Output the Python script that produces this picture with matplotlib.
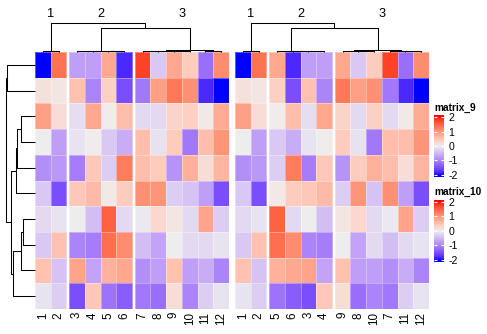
import numpy as np
import matplotlib
matplotlib.use('Agg')
import matplotlib.pyplot as plt
from matplotlib.colors import ListedColormap, Normalize

plt.rcParams['font.family'] = ['Liberation Sans', 'DejaVu Sans']
plt.rcParams['axes.unicode_minus'] = False

# ---- data (rows top->bottom, columns 1..12) ----
mat = np.array([
    [-2.3, 1.35, -0.75, -0.75, 0.8, -1.8, 1.75, -0.35, 0.8, 0.4, -1.2, 1.1],
    [0.15, 0.1, 0.5, -1.0, 0.35, -1.5, -1.1, 0.9, 1.3, 1.05, -1.8, -2.2],
    [0.9, 0.2, -0.15, 0.8, 0.03, 0.55, -0.2, -0.2, 0.3, 0.35, 0.05, 0.75],
    [0.0, -0.75, -0.1, 0.02, -0.35, -0.6, 0.55, -0.12, 0.4, -1.1, 0.55, 1.0],
    [-0.9, -0.8, -1.05, 0.45, -0.3, 1.25, 0.55, 0.4, -0.85, 0.7, 0.2, 0.65],
    [-0.35, -1.5, 0.45, 0.6, 0.05, 0.4, 1.05, 1.0, -0.3, -0.4, -0.75, -1.5],
    [-0.2, -0.1, 0.0, -0.45, 1.5, -0.2, -0.05, 0.25, 0.1, -0.2, 0.85, -0.3],
    [-0.35, 0.5, -1.0, -1.05, 1.4, 1.1, -0.45, -0.7, 0.0, -0.2, -0.2, -0.1],
    [0.5, -0.4, 0.85, -0.7, 0.7, 0.8, -0.9, -0.75, 0.5, -0.75, -0.6, -1.0],
    [-0.1, -0.3, -1.5, 0.45, -1.15, -1.35, -1.1, -1.2, 0.2, -1.0, -0.3, -0.1],
])

col_order_9 = [1, 2, 3, 4, 5, 6, 7, 8, 9, 10, 11, 12]
col_order_10 = [1, 2, 5, 6, 3, 4, 9, 8, 10, 7, 11, 12]
slice_sizes = [2, 4, 6]
slice_titles = ['1', '2', '3']
legend_titles = ['matrix_9', 'matrix_10']
legend_ticks = [2, 1, 0, -1, -2]
legend_labels = ['2', '1', '0', '-1', '-2']

# dendrograms as (left, right, height); leaves = display positions
row_tree = ((0, 1, 0.945),
            ((((2, 3, 0.47), 4, 0.62), 5, 0.65),
             (((6, 7, 0.42), 8, 0.49), 9, 0.74), 0.82), 1.0)
col_tree_9 = ((0, 1, 0.03),
              (((2, 3, 0.02), (4, 5, 0.025), 0.05),
               ((((6, 7, 0.02), (8, 9, 0.025), 0.04), (10, 11, 0.03), 0.055)), 0.84), 1.0)
col_tree_10 = ((0, 1, 0.03),
               ((2, (3, (4, 5, 0.02), 0.03), 0.05),
                ((6, (7, 8, 0.02), 0.03), (9, (10, 11, 0.025), 0.035), 0.055), 0.84), 1.0)

# ---- colour mapping: blue -> #EEEEEE -> red, interpolated in LAB ----
M = np.array([[0.4124564, 0.3575761, 0.1804375],
              [0.2126729, 0.7151522, 0.0721750],
              [0.0193339, 0.1191920, 0.9503041]])
WHITE = np.array([0.95047, 1.0, 1.08883])


def srgb_to_lab(rgb):
    rgb = np.asarray(rgb, float)
    lin = np.where(rgb <= 0.04045, rgb / 12.92, ((rgb + 0.055) / 1.055) ** 2.4)
    t = (lin @ M.T) / WHITE
    d = 6 / 29
    f = np.where(t > d ** 3, np.cbrt(t), t / (3 * d * d) + 4 / 29)
    return np.stack([116 * f[..., 1] - 16, 500 * (f[..., 0] - f[..., 1]),
                     200 * (f[..., 1] - f[..., 2])], -1)


def lab_to_srgb(lab):
    fy = (lab[..., 0] + 16) / 116
    f = np.stack([fy + lab[..., 1] / 500, fy, fy - lab[..., 2] / 200], -1)
    d = 6 / 29
    t = np.where(f > d, f ** 3, 3 * d * d * (f - 4 / 29))
    lin = np.clip((t * WHITE) @ np.linalg.inv(M).T, 0, 1)
    return np.clip(np.where(lin <= 0.0031308, 12.92 * lin,
                            1.055 * lin ** (1 / 2.4) - 0.055), 0, 1)


anchors = np.array([-2, 0, 2])
anchor_lab = srgb_to_lab([[0, 0, 1], [0xEE / 255] * 3, [1, 0, 0]])
vals = np.linspace(-2, 2, 256)
lab = np.stack([np.interp(vals, anchors, anchor_lab[:, k]) for k in range(3)], -1)
cmap = ListedColormap(lab_to_srgb(lab))
norm = Normalize(-2, 2)

# ---- layout ----
W, H = 487, 334
fig = plt.figure(figsize=(W / 100, H / 100), dpi=100)


def add_ax(x0, y0, x1, y1):
    return fig.add_axes([x0 / W, 1 - y1 / H, (x1 - x0) / W, (y1 - y0) / H])


def draw_tree(ax, node, leaf_pos, orient):
    if isinstance(node, int):
        return leaf_pos[node], 0.0
    left, right, h = node
    pl, hl = draw_tree(ax, left, leaf_pos, orient)
    pr, hr = draw_tree(ax, right, leaf_pos, orient)
    xs, ys = [pl, pl, pr, pr], [hl, h, h, hr]
    if orient == 'left':
        xs, ys = ys, xs
    ax.plot(xs, ys, color='black', lw=0.75, solid_capstyle='butt', clip_on=False)
    return (pl + pr) / 2, h


gap = 0.17
starts = np.concatenate([[0], np.cumsum(slice_sizes)[:-1]]) + gap * np.arange(len(slice_sizes))
slice_of = np.repeat(np.arange(len(slice_sizes)), slice_sizes)
col_pos = np.arange(mat.shape[1]) + gap * slice_of + 0.5
xmax = mat.shape[1] + gap * (len(slice_sizes) - 1)
nrow = mat.shape[0]

for x0, order, tree in [(35, col_order_9, col_tree_9), (235, col_order_10, col_tree_10)]:
    ax = add_ax(x0, 52, x0 + 194, 309)
    idx = np.array(order) - 1
    k = 0
    for st, n in zip(starts, slice_sizes):
        sub = mat[:, idx[k:k + n]]
        ax.pcolormesh(st + np.arange(n + 1), np.arange(nrow + 1), sub, cmap=cmap, norm=norm,
                      edgecolors=(1, 1, 1, 0.35), linewidth=0.4)
        k += n
    ax.set_xlim(0, xmax)
    ax.set_ylim(nrow, 0)
    ax.set_xticks(col_pos)
    ax.set_xticklabels([str(c) for c in order], rotation=90, va='top', ha='center')
    ax.tick_params(axis='x', length=0, pad=2.2, labelsize=8.4)
    ax.set_yticks([])
    for sp in ax.spines.values():
        sp.set_visible(False)
    ax.set_facecolor('none')

    axd = add_ax(x0, 22, x0 + 194, 52)
    draw_tree(axd, tree, col_pos, 'top')
    axd.set_xlim(0, xmax)
    axd.set_ylim(0, 1.03)
    axd.axis('off')
    for st, n, t in zip(starts, slice_sizes, slice_titles):
        axd.text(st + n / 2, 1.16, t, transform=axd.get_xaxis_transform(),
                 ha='center', va='baseline', fontsize=9.2)

# row dendrogram
axr = add_ax(5, 52, 35, 309)
draw_tree(axr, row_tree, np.arange(nrow) + 0.5, 'left')
axr.set_ylim(nrow, 0)
axr.set_xlim(1.02, 0)
axr.axis('off')

# legends
grad = np.linspace(-2.12, 2.12, 200)[:, None]
for i, title in enumerate(legend_titles):
    yc = 146 + 84.7 * i
    cax = add_ax(434.3, yc - 31, 444.3, yc + 31)
    cax.imshow(grad, aspect='auto', cmap=cmap, norm=norm, origin='lower',
               extent=[0, 1, -2.15, 2.15])
    cax.set_ylim(-2.15, 2.15)
    cax.set_xlim(0, 1)
    cax.set_xticks([])
    cax.set_yticks(legend_ticks)
    cax.set_yticklabels(legend_labels)
    cax.tick_params(axis='y', direction='in', length=2, width=0.8, color='white',
                    left=True, right=True, labelleft=False, labelright=True,
                    labelsize=7.6, pad=2.9)
    for sp in cax.spines.values():
        sp.set_visible(False)
    cax.text(0, 1.073, title, transform=cax.transAxes, ha='left', va='baseline',
             fontsize=7.3, fontweight='bold')

fig.savefig('out.png', dpi=100)
